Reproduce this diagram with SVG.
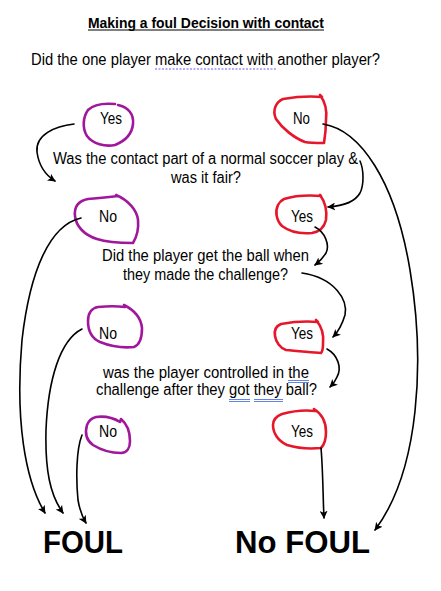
<svg xmlns="http://www.w3.org/2000/svg" width="441" height="591" viewBox="0 0 441 591">
<style>
text{font-family:"Liberation Sans",Arial,sans-serif;fill:#000}
.t{font-size:16px}
.b{font-weight:bold;font-size:15.5px}
.big{font-size:32px;font-weight:bold}
.p{fill:none;stroke:#a0179c;stroke-width:2.6;stroke-linejoin:round;stroke-linecap:round}
.r{fill:none;stroke:#e6162b;stroke-width:2.6;stroke-linejoin:round;stroke-linecap:round}
.c{fill:none;stroke:#000;stroke-width:1.6;stroke-linecap:round}
</style>
<defs>
<marker id="ah" viewBox="0 0 10 10" refX="9" refY="5" markerWidth="8" markerHeight="8" orient="auto" markerUnits="userSpaceOnUse">
<path d="M0,0 L10,5 L0,10 L2.5,5 Z" fill="#000"/>
</marker>
</defs>
<rect width="441" height="591" fill="#fff"/>
<g id="title">
<text class="b" x="88" y="28" textLength="236" lengthAdjust="spacingAndGlyphs">Making a foul Decision with contact</text>
<line x1="88" y1="30" x2="324" y2="30" stroke="#000" stroke-width="1"/>
</g>
<g id="q1">
<text class="t" x="31" y="65" textLength="349" lengthAdjust="spacingAndGlyphs">Did the one player make contact with another player?</text>
<line x1="155" y1="69" x2="276" y2="69" stroke="#6a5cf0" stroke-width="1" stroke-dasharray="2,1.5"/>
</g>
<g id="yes1">
<path class="p" d="M118,105 C128,107 134,114 133,124 C132,134 125,141 115,145 C105,147 93,144 87,136 C82,128 83,117 88,110 C94,104 104,103 115,104"/>
<text class="t" x="100" y="124" textLength="22" lengthAdjust="spacingAndGlyphs">Yes</text>
</g>
<g id="no1">
<path class="r" d="M283,99 C295,97 310,96 322,97 L320,95 C326,103 327,112 326,120 C326,130 325,137 324,143 C318,143 310,143 305,142 C294,138 282,128 276,119 C272,110 276,102 283,99"/>
<text class="t" x="293" y="124" textLength="17" lengthAdjust="spacingAndGlyphs">No</text>
</g>
<g id="q2">
<text class="t" x="53" y="164" textLength="305" lengthAdjust="spacingAndGlyphs">Was the contact part of a normal soccer play &amp;</text>
<text class="t" x="171" y="183" textLength="70" lengthAdjust="spacingAndGlyphs">was it fair?</text>
</g>
<g id="no2">
<path class="p" d="M88,199 C100,198 110,197 118,196 L116,195 C128,200 137,210 138,220 C139,230 136,238 133,243 C120,243 106,242 97,239 C84,235 76,226 75,216 C74,207 78,201 88,199"/>
<text class="t" x="99" y="222" textLength="18" lengthAdjust="spacingAndGlyphs">No</text>
</g>
<g id="yes2">
<path class="r" d="M284,199 C294,196 308,195 321,196 L320,195 C326,203 327,212 326,220 C324,228 319,232 312,233 C302,234 290,232 282,226 C276,220 275,211 278,205 C280,201 282,200 284,199"/>
<text class="t" x="291" y="222" textLength="22" lengthAdjust="spacingAndGlyphs">Yes</text>
</g>
<g id="q3">
<text class="t" x="102" y="261" textLength="207" lengthAdjust="spacingAndGlyphs">Did the player get the ball when</text>
<text class="t" x="123" y="280" textLength="165" lengthAdjust="spacingAndGlyphs">they made the challenge?</text>
</g>
<g id="no3">
<path class="p" d="M98,307 C108,306 117,306 125,307 L124,305 C134,310 141,318 142,328 C142,338 139,345 134,347 C124,348 110,346 100,342 C91,338 88,330 88,321 C88,313 92,308 98,307"/>
<text class="t" x="99" y="339" textLength="18" lengthAdjust="spacingAndGlyphs">No</text>
</g>
<g id="yes3">
<path class="r" d="M281,324 C292,322 306,321 318,322 L316,320 C322,327 324,336 323,344 C323,349 322,352 321,353 C310,352 296,351 286,350 C280,348 276,342 275,336 C274,330 276,326 281,324"/>
<text class="t" x="291" y="339" textLength="22" lengthAdjust="spacingAndGlyphs">Yes</text>
</g>
<g id="q4">
<text class="t" x="103" y="378" textLength="206" lengthAdjust="spacingAndGlyphs">was the player controlled in the</text>
<line x1="288" y1="380.5" x2="309" y2="380.5" stroke="#3b64d8" stroke-width="0.8"/>
<line x1="288" y1="382.5" x2="309" y2="382.5" stroke="#3b64d8" stroke-width="0.8"/>
<text class="t" x="96" y="395" textLength="221" lengthAdjust="spacingAndGlyphs">challenge after they got they ball?</text>
<line x1="229" y1="399.5" x2="250" y2="399.5" stroke="#3b64d8" stroke-width="0.8"/>
<line x1="229" y1="401.5" x2="250" y2="401.5" stroke="#3b64d8" stroke-width="0.8"/>
<line x1="254" y1="399.5" x2="283" y2="399.5" stroke="#3b64d8" stroke-width="0.8"/>
<line x1="254" y1="401.5" x2="283" y2="401.5" stroke="#3b64d8" stroke-width="0.8"/>
</g>
<g id="no4">
<path class="p" d="M96,417 C104,416 112,417 120,422 L121,419 C127,424 130,432 130,441 C130,448 127,453 121,453 C112,453 101,450 93,445 C86,440 85,432 87,425 C89,420 92,418 96,417"/>
<text class="t" x="99" y="437" textLength="18" lengthAdjust="spacingAndGlyphs">No</text>
</g>
<g id="yes4">
<path class="r" d="M282,414 C293,411 306,410 315,411 L314,409 C322,414 326,422 326,432 C326,440 324,445 321,448 C311,449 297,448 287,445 C278,441 273,433 273,425 C273,419 277,416 282,414"/>
<text class="t" x="291" y="437" textLength="22" lengthAdjust="spacingAndGlyphs">Yes</text>
</g>
<g id="foul">
<text class="big" x="43" y="553" textLength="80" lengthAdjust="spacingAndGlyphs">FOUL</text>
</g>
<g id="nofoul">
<text class="big" x="235" y="553" textLength="135" lengthAdjust="spacingAndGlyphs">No FOUL</text>
</g>
<g id="connectors">
<path class="c" marker-end="url(#ah)" d="M74,124 C55,126 35,135 37,152 C39,167 47,176 55,181"/>
<path class="c" marker-end="url(#ah)" d="M323,124 C360,130 395,180 410,270 C425,360 420,470 375,530"/>
<path class="c" marker-end="url(#ah)" d="M360,161 C364,170 364,185 360,193 C355,202 342,206 328,207"/>
<path class="c" marker-end="url(#ah)" d="M81,218 C50,225 30,270 22,340 C15,420 25,480 45,513"/>
<path class="c" marker-end="url(#ah)" d="M315,227 C325,232 330,245 326,253 C323,258 319,262 315,265"/>
<path class="c" marker-end="url(#ah)" d="M302,273 C335,278 348,300 345,315 C342,325 337,333 333,337"/>
<path class="c" marker-end="url(#ah)" d="M82,329 C60,340 48,380 46,430 C45,470 50,495 63,513"/>
<path class="c" marker-end="url(#ah)" d="M327,349 C338,355 342,368 337,377 C335,382 332,385 330,387"/>
<path class="c" marker-end="url(#ah)" d="M82,435 C76,450 76,480 78,500 C80,512 83,518 86,523"/>
<path class="c" marker-end="url(#ah)" d="M321,448 C323,470 323,500 324,518"/>
</g>
</svg>
